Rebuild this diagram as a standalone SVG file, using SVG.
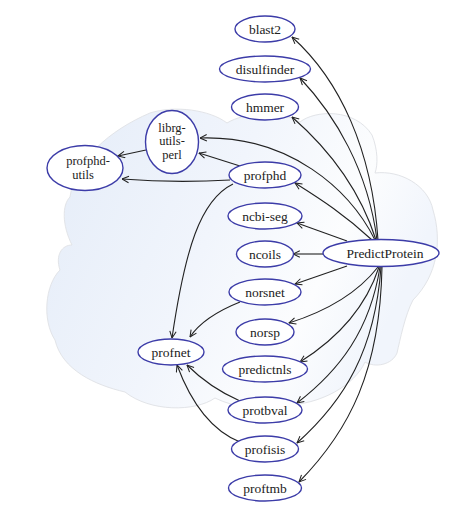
<svg xmlns="http://www.w3.org/2000/svg" width="474" height="519" viewBox="0 0 474 519">
<style>
.n ellipse{fill:#ffffff;stroke:#3c3ca8;stroke-width:1.4}
.n text{font-family:"Liberation Serif","DejaVu Serif",serif;font-size:13.5px;fill:#222;text-anchor:middle}
.n text.m{font-size:12.5px}
.e path{fill:none;stroke:#222;stroke-width:1.1}
</style>
<defs>
<linearGradient id="cg" x1="0" y1="0" x2="1" y2="0.35">
<stop offset="0" stop-color="#e4ecf8"/>
<stop offset="0.5" stop-color="#f1f5fc"/>
<stop offset="0.8" stop-color="#fcfdfe"/>
<stop offset="1" stop-color="#f1f5fc"/>
</linearGradient>
<marker id="a" viewBox="0 0 10 10" refX="9.5" refY="5" markerWidth="8" markerHeight="8" markerUnits="userSpaceOnUse" orient="auto">
<path d="M1,1 L9.5,5 L1,9" fill="none" stroke="#222" stroke-width="1.3"/>
</marker>
</defs>
<rect width="474" height="519" fill="#ffffff"/>
<path id="cloud" d="M150,113 C175,105 210,110 227,123 C245,112 280,110 300,122 C315,110 355,108 372,135 C378,150 378,165 375,173 C400,170 428,185 433,210 C442,240 438,275 413,300 C405,315 400,340 397,353 C392,365 375,368 365,362 C355,385 320,405 285,405 C260,410 235,408 215,398 C195,412 150,412 125,392 C95,385 62,370 55,340 C42,320 45,285 60,270 C55,255 62,245 72,245 C62,225 62,205 70,197 C75,160 110,130 150,113 Z" fill="url(#cg)" stroke="#e2e4e8" stroke-width="1"/>
<g class="e" id="connectors">
<path d="M378,240 C372,150 340,80 292,37" marker-end="url(#a)"/>
<path d="M377,240 C368,170 335,115 300,78" marker-end="url(#a)"/>
<path d="M376,240 C360,190 330,150 292,117" marker-end="url(#a)"/>
<path d="M375,240 C350,190 290,135 200,138" marker-end="url(#a)"/>
<path d="M372,240 C345,215 322,200 295,183" marker-end="url(#a)"/>
<path d="M347,241 L297,223" marker-end="url(#a)"/>
<path d="M323,254 L293,254" marker-end="url(#a)"/>
<path d="M347,266 L295,284" marker-end="url(#a)"/>
<path d="M378,267 C360,290 330,310 289,323" marker-end="url(#a)"/>
<path d="M379,267 C365,310 335,340 300,362" marker-end="url(#a)"/>
<path d="M380,267 C370,330 340,370 297,403" marker-end="url(#a)"/>
<path d="M381,267 C375,350 345,400 297,443" marker-end="url(#a)"/>
<path d="M382,267 C380,370 350,430 299,482" marker-end="url(#a)"/>
<path d="M146,150 L118,156" marker-end="url(#a)"/>
<path d="M240,166 L199,153" marker-end="url(#a)"/>
<path d="M230,180 C195,182 160,182 122,179" marker-end="url(#a)"/>
<path d="M233,184 C200,200 185,250 172,338" marker-end="url(#a)"/>
<path d="M240,302 C220,310 200,322 190,337" marker-end="url(#a)"/>
<path d="M240,401 C215,390 200,378 187,365" marker-end="url(#a)"/>
<path d="M240,442 C210,430 190,400 177,365" marker-end="url(#a)"/>
</g>
<g class="n" id="blast2"><ellipse cx="265" cy="29" rx="30" ry="13"/><text x="265" y="33.5">blast2</text></g>
<g class="n" id="disulfinder"><ellipse cx="265" cy="69" rx="45.5" ry="13"/><text x="265" y="73.5">disulfinder</text></g>
<g class="n" id="hmmer"><ellipse cx="265" cy="107" rx="33.5" ry="13"/><text x="265" y="111.5">hmmer</text></g>
<g class="n" id="librg-utils-perl"><ellipse cx="172" cy="142" rx="26.5" ry="31.5"/><text class="m" x="172" y="131.5">librg-</text><text class="m" x="172" y="145">utils-</text><text class="m" x="172" y="158.5">perl</text></g>
<g class="n" id="profphd-utils"><ellipse cx="85" cy="168" rx="38" ry="22.5"/><text class="m" x="88" y="165">profphd-</text><text class="m" x="83" y="178.5">utils</text></g>
<g class="n" id="profphd"><ellipse cx="265" cy="175" rx="36" ry="13"/><text x="265" y="179.5">profphd</text></g>
<g class="n" id="ncbi-seg"><ellipse cx="265" cy="216" rx="37" ry="13"/><text x="265" y="220.5">ncbi-seg</text></g>
<g class="n" id="ncoils"><ellipse cx="265" cy="254" rx="28.5" ry="13"/><text x="265" y="258.5">ncoils</text></g>
<g class="n" id="PredictProtein"><ellipse cx="381" cy="253" rx="58" ry="13.5"/><text x="385" y="257.5">PredictProtein</text></g>
<g class="n" id="norsnet"><ellipse cx="265" cy="292" rx="36" ry="13"/><text x="265" y="296.5">norsnet</text></g>
<g class="n" id="norsp"><ellipse cx="265" cy="332" rx="29" ry="13"/><text x="265" y="336.5">norsp</text></g>
<g class="n" id="profnet"><ellipse cx="171" cy="352" rx="33" ry="13"/><text x="171" y="356.5">profnet</text></g>
<g class="n" id="predictnls"><ellipse cx="265" cy="369" rx="42.5" ry="13"/><text x="265" y="373.5">predictnls</text></g>
<g class="n" id="protbval"><ellipse cx="265" cy="410" rx="37" ry="13"/><text x="265" y="414.5">protbval</text></g>
<g class="n" id="profisis"><ellipse cx="265" cy="449" rx="33.5" ry="13"/><text x="265" y="453.5">profisis</text></g>
<g class="n" id="proftmb"><ellipse cx="265" cy="488" rx="36.5" ry="13"/><text x="265" y="492.5">proftmb</text></g>
</svg>
